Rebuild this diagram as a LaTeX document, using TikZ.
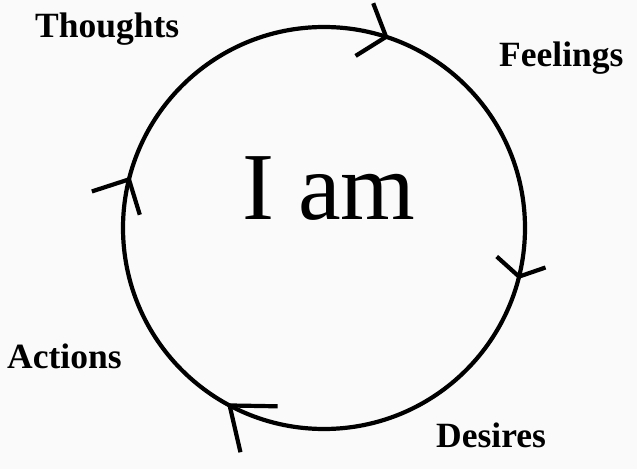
\documentclass[tikz,border=0pt]{standalone}
\usepackage{fontspec}
\setmainfont{Liberation Serif}
\usepackage{tikz}
\usetikzlibrary{arrows,shapes}
\definecolor{paper}{RGB}{250,250,250}
\tikzstyle{ring}=[draw,circle,line width=4.2pt,minimum size=402pt,inner sep=0pt,outer sep=0pt]
\tikzstyle{stage}=[anchor=base west,inner sep=0pt,font=\fontsize{35.5}{42}\selectfont\bfseries]
\tikzstyle{self}=[anchor=base,inner sep=0pt,font=\fontsize{96}{110}\selectfont]
\tikzstyle{tick}=[draw,line width=4.2pt,-]

\begin{document}
\begin{tikzpicture}[x=1pt,y=1pt]
    % Paper first, it fixes the frame
    \fill[paper] (0,0) rectangle (637,469);
    \useasboundingbox (0,0) rectangle (637,469);

    % The cycle and its centre
    \node[ring] (cycle) at (324,241) {};
    \node[self] (iam) at (329,249) {I am};

    % Labels round the cycle
    \foreach \pos/\name in {{(35,431)/Thoughts},{(499,402)/Feelings},{(436,22)/Desires},{(7,101)/Actions}}
        \node[stage] (\name) at \pos {\name};

    % Arrow marks on the cycle (angle / arm / length / arm / length)
    \foreach \ang/\one/\la/\two/\lb in {72.5/111/36/212/36, -14.6/138/30/19/28, -118.5/-1/48/283/48, 166.3/198/39/287/37}
        \path[tick] (cycle.\ang) ++(\one:\la) -- (cycle.\ang) -- ++(\two:\lb);
\end{tikzpicture}
\end{document}
